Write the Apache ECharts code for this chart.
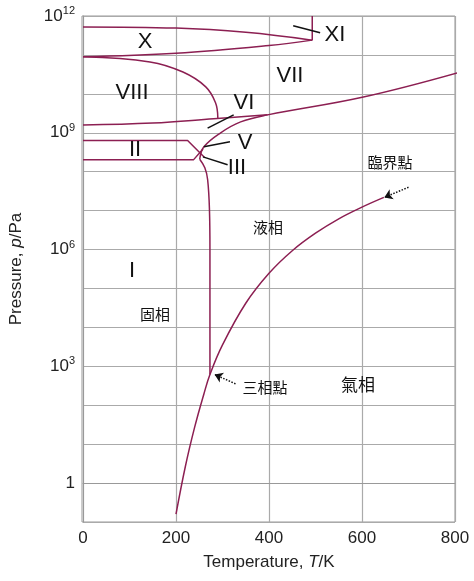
<!DOCTYPE html><html><head><meta charset="utf-8">
<script src="https://cdn.jsdelivr.net/npm/echarts@6/dist/echarts.min.js"></script>
<style>html,body{margin:0;background:#fff}#c{width:474px;height:581px}</style></head><body><div id="c"></div>
<script>
// [T (K), log10(p / Pa)]
const vaporCurve=[[200,-0.8],[220,0.42],[240,1.43],[260,2.29],[273,2.79],[300,3.55],[350,4.62],[400,5.39],[450,5.97],[500,6.42],[550,6.79],[600,7.09],[647,7.34]];
const iceIMelt=[[273,2.79],[273,6],[272,7],[268,7.8],[262,8.1],[251,8.32]];
const liquidMelt=[[251,8.32],[260,8.64],[296,9.0],[339,9.28],[397,9.46],[603,9.92],[805,10.54]];
const iceIITop=[[0,8.8],[225,8.8],[262,8.36]];
const iceIIBottom=[[0,8.31],[238,8.31],[258,8.58]];
const iceVIBottom=[[0,9.2],[150,9.25],[281,9.36],[397,9.46]];
const iceVIIIcurve=[[0,10.95],[144,10.82],[215,10.56],[264,10.18],[285,9.77],[290,9.38]];
const iceXTop=[[0,11.72],[200,11.69],[350,11.58],[493,11.38]];
const iceXBottom=[[0,10.95],[200,11.04],[400,11.24],[493,11.38]];
const iceXIline=[[493,11.38],[493,12]];
const leaders=[[[452,11.75],[510,11.57]],[[268,9.12],[324,9.46]],[[260,8.64],[316,8.77]],[[258,8.38],[311,8.18]]];
const arrows=[[[700,7.6],[648,7.34]],[[328,2.55],[283,2.79]]];
const xTicks=[0,200,400,600,800];
const yLabelExps=[0,3,6,9,12];
const labels=[['X',145,42,22],['XI',335,35,22],['VII',290,76,22],['VIII',132,93,22],['VI',244,103,22],['V',245,143,22],['II',135,150,22],['III',237,168,22],['I',132,271,22],['臨界點',390,162,15],['液相',268,227,15],['固相',155,314,15],['三相點',265,387,15],['氣相',358,385,17]];
const C='#8c1f52';
const chart=echarts.init(document.getElementById('c'));
const curve=(d,s)=>({type:'line',data:d,smooth:s?0.4:false,symbol:'none',lineStyle:{color:C,width:1.5},z:3});
const series=[curve(vaporCurve,1),curve(iceIMelt,1),curve(liquidMelt,1),curve(iceIITop,0),curve(iceIIBottom,0),curve(iceVIBottom,1),curve(iceVIIIcurve,1),curve(iceXTop,1),curve(iceXBottom,1),curve(iceXIline,0)];
leaders.forEach(l=>series.push({type:'line',data:l,symbol:'none',lineStyle:{color:'#111',width:1.5},z:4}));
arrows.forEach(a=>series.push({type:'lines',coordinateSystem:'cartesian2d',data:[{coords:a}],symbol:['none','arrow'],symbolSize:8,lineStyle:{color:'#111',width:1.5,type:'dotted',opacity:1},z:4}));
const F='Liberation Sans';
chart.setOption({
 animation:false,
 grid:{left:82,right:19,top:16,bottom:59},
 xAxis:{type:'value',min:0,max:800,interval:200,name:'{n|Temperature, }{i|T}{n|/K}',nameLocation:'middle',nameGap:32,
  nameTextStyle:{rich:{n:{fontSize:17,color:'#222',fontFamily:F},i:{fontSize:17,color:'#222',fontFamily:F,fontStyle:'italic'}}},
  axisLine:{lineStyle:{color:'#999'}},axisTick:{show:false},
  axisLabel:{fontSize:17,color:'#222',fontFamily:F,customValues:xTicks},
  splitLine:{show:true,lineStyle:{color:'#aaa',width:1.2}}},
 yAxis:{type:'value',min:-1,max:12,interval:1,name:'{n|Pressure, }{i|p}{n|/Pa}',nameLocation:'middle',nameGap:58,
  nameTextStyle:{rich:{n:{fontSize:17,color:'#222',fontFamily:F},i:{fontSize:17,color:'#222',fontFamily:F,fontStyle:'italic'}}},
  axisLine:{lineStyle:{color:'#999'}},axisTick:{show:false},
  axisLabel:{fontSize:17,color:'#222',fontFamily:F,formatter:v=>{if(!yLabelExps.includes(v))return '';if(v===0)return '1';return '{b|10}{s|'+v+'}';},
   rich:{b:{fontSize:17,color:'#222',fontFamily:F},s:{fontSize:11,color:'#222',verticalAlign:'top',padding:[0,0,10,0],fontFamily:F}}},
  splitLine:{show:true,lineStyle:{color:'#aaa',width:1.2}}},
 graphic:[{type:'rect',shape:{x:82,y:16,width:373,height:506},style:{fill:'none',stroke:'#999',lineWidth:1}}].concat(labels.map(l=>({type:'text',x:l[1],y:l[2],z:10,style:{text:l[0],fontSize:l[3],fill:'#111',fontFamily:l[3]>18?F:'Noto Sans CJK TC',align:'center',verticalAlign:'middle'}}))),
 series
});
</script></body></html>
